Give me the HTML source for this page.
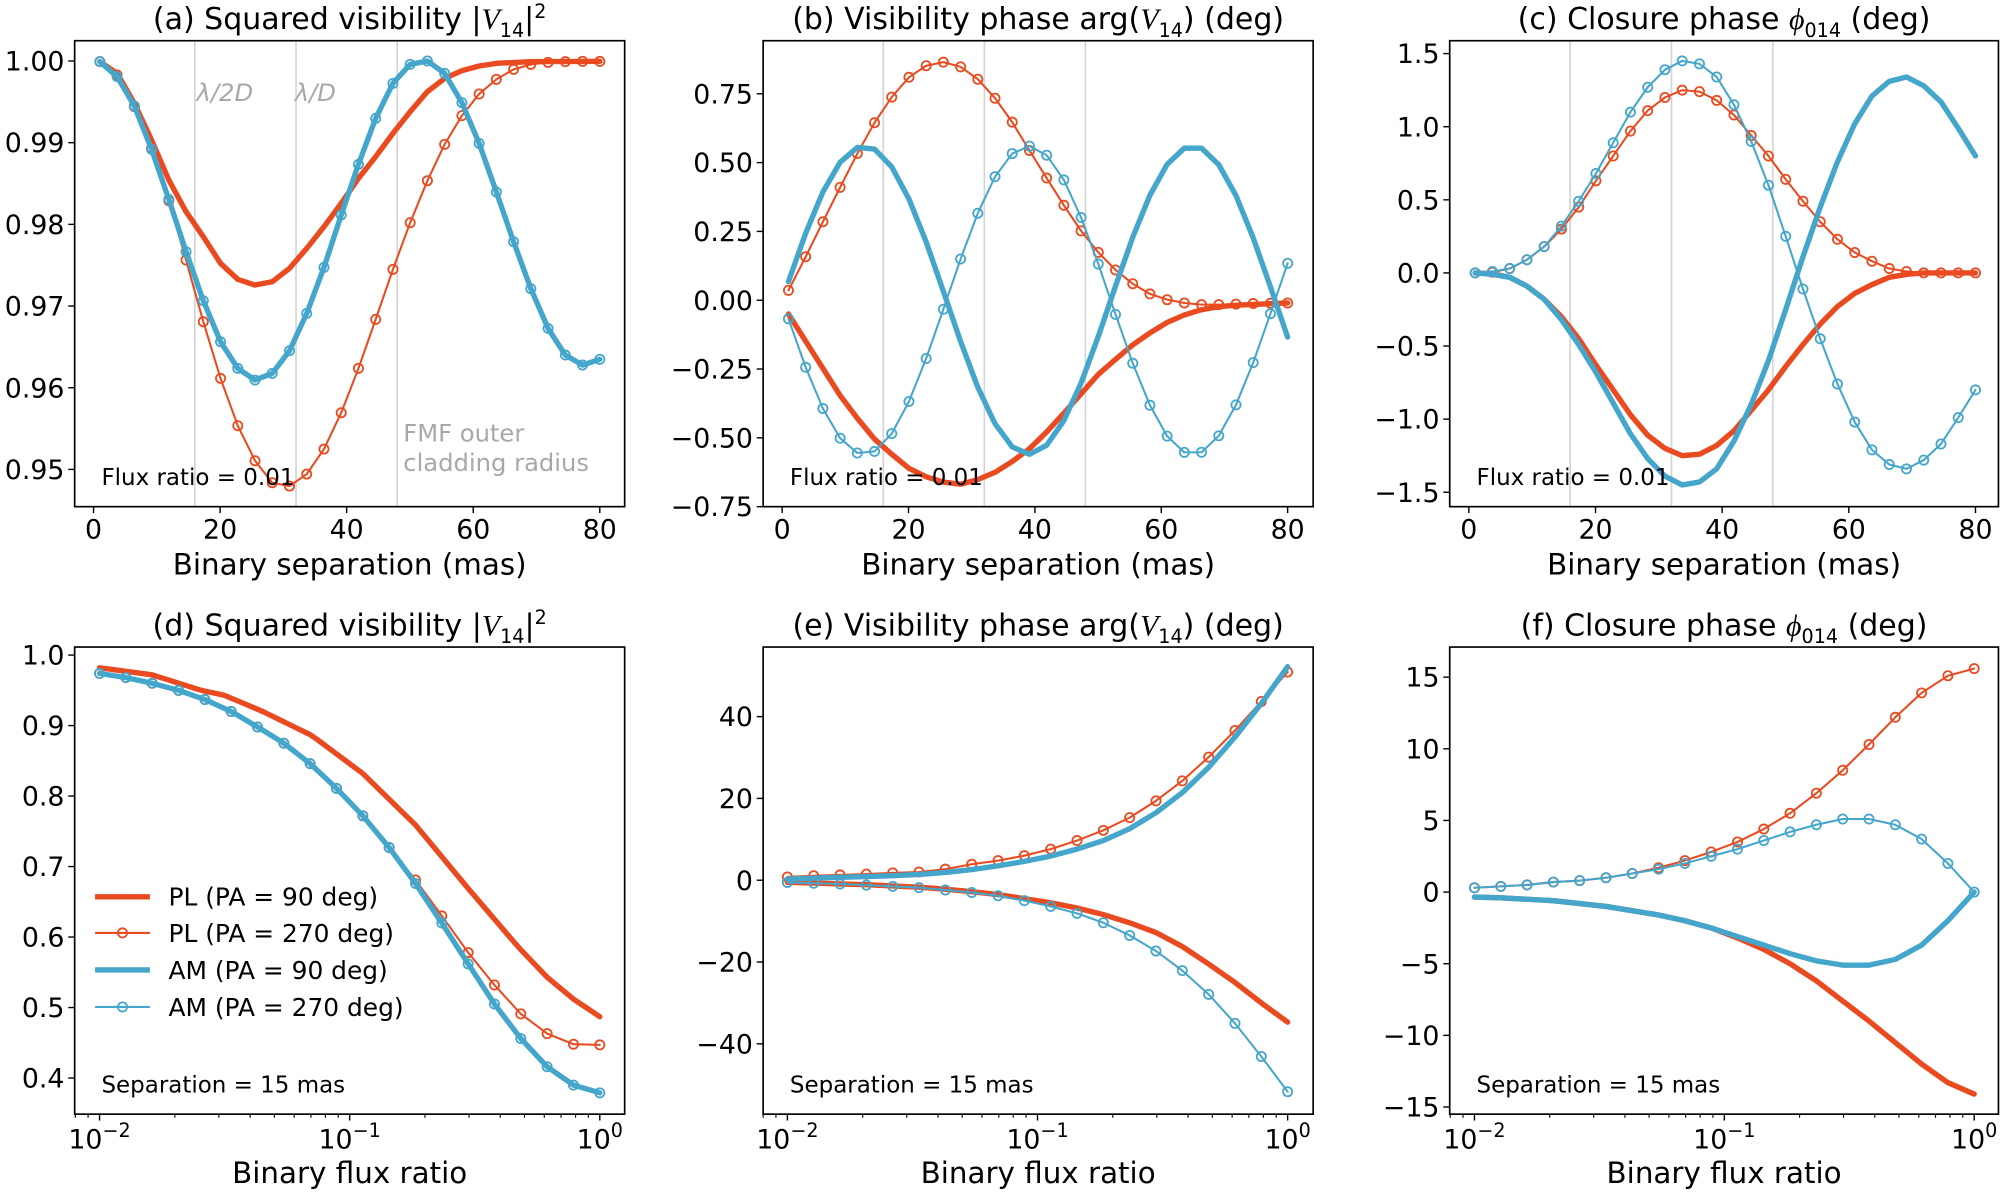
<!DOCTYPE html>
<html><head><meta charset="utf-8"><style>
html,body{margin:0;padding:0;background:#fff;}
svg{display:block;}
text{font-family:"DejaVu Sans","Liberation Sans",sans-serif;fill:#000;}
</style></head><body>
<svg id="s" width="2001" height="1192" viewBox="0 0 1568 934" preserveAspectRatio="none" xmlns="http://www.w3.org/2000/svg"></svg>
<script>
const S=document.getElementById('s');const NS='http://www.w3.org/2000/svg';
const RED='#EA4A1F',BLUE='#45A6CC',GRAY='#d4d4d4';
function el(t,a,p){const e=document.createElementNS(NS,t);for(const k in a)e.setAttribute(k,a[k]);(p||S).appendChild(e);return e;}
function txt(x,y,s,a){const e=el('text',Object.assign({x:x,y:y},a||{}));e.innerHTML=s;return e;}
function line(pts,col,w,g){el('polyline',{points:pts.map(p=>p[0].toFixed(2)+','+p[1].toFixed(2)).join(' '),fill:'none',stroke:col,'stroke-width':w,'stroke-linejoin':'round','stroke-linecap':'round'},g);}
function marks(pts,col,g){pts.forEach(p=>el('circle',{cx:p[0],cy:p[1],r:3.6,fill:'none',stroke:col,'stroke-width':1.4},g));}
function lin(a,b,c,d){return v=>c+(v-a)*(d-c)/(b-a);}
function interp(cp,x){for(let i=0;i<cp.length-1;i++){if(x>=cp[i][0]&&x<=cp[i+1][0]){const t=(x-cp[i][0])/(cp[i+1][0]-cp[i][0]);return cp[i][1]+t*(cp[i+1][1]-cp[i][1]);}}return cp[cp.length-1][1];}

function panel(o){
  const clip='c'+o.id;const cp=el('clipPath',{id:clip});el('rect',{x:o.L,y:o.T,width:o.R-o.L,height:o.B-o.T},cp);
  const g=el('g',{'clip-path':'url(#'+clip+')'});
  (o.vl||[]).forEach(v=>el('line',{x1:o.X(v),x2:o.X(v),y1:o.T,y2:o.B,stroke:GRAY,'stroke-width':1.3},g));
  o.draw(g);
  el('rect',{x:o.L,y:o.T,width:o.R-o.L,height:o.B-o.T,fill:'none',stroke:'#000','stroke-width':1.3});
  o.yt.forEach(t=>{const y=o.Y(t[0]);el('line',{x1:o.L-5,x2:o.L,y1:y,y2:y,stroke:'#000','stroke-width':1.1});txt(o.L-8,y+7.5,t[1],{'text-anchor':'end','font-size':21});});
  if(o.log){
    for(let d=-3;d<=0;d++){for(let m=1;m<10;m++){const v=Math.log10(m)+d;const x=o.X(v);if(x<o.L||x>o.R)continue;if(m==1){el('line',{x1:x,x2:x,y1:o.B,y2:o.B+5,stroke:'#000','stroke-width':1.1});}else el('line',{x1:x,x2:x,y1:o.B,y2:o.B+2.8,stroke:'#000','stroke-width':0.9});}}
    [[-2,'−2'],[-1,'−1'],[0,'0']].forEach(t=>{const x=o.X(t[0]);txt(x,900,'10<tspan dy="-9" font-size="15">'+t[1]+'</tspan>',{'text-anchor':'middle','font-size':21});});
  } else {
    [0,20,40,60,80].forEach(v=>{const x=o.X(v);el('line',{x1:x,x2:x,y1:o.B,y2:o.B+5,stroke:'#000','stroke-width':1.1});txt(x,o.B+25,String(v),{'text-anchor':'middle','font-size':21});});
  }
  txt((o.L+o.R)/2,o.B+(o.log?54:53),o.xl,{'text-anchor':'middle','font-size':23});
  txt((o.L+o.R)/2,o.T-9,o.title,{'text-anchor':'middle','font-size':23.5});
  if(o.note)txt(o.L+21,o.B-17,o.note,{'font-size':18});
}
const V='<tspan font-family="Liberation Serif" font-style="italic">V</tspan><tspan dy="6" font-size="15">14</tspan><tspan dy="-6">|</tspan>';
const xs=[];for(let i=0;i<30;i++)xs.push(1+79*i/29);
const ts=[];for(let i=0;i<20;i++)ts.push(-2+2*i/19);

(function(){
 const X=lin(0,80,73.3,470),Y=lin(1,0.95,47.8,367.8);
 const rm=[95,135,230,355,512,690,875,1045,1187,1292,1358,1368,1332,1257,1148,1015,868,718,578,452,343,257,192,148,118,103,97,95,94,94].map(y=>1-(y-93)/24500);
 const bm=[95,140,228,358,508,665,812,935,1015,1050,1030,962,850,712,555,403,265,160,103,93,130,218,340,486,635,776,895,975,1005,988].map(y=>1-(y-93)/24500);
 const tc=[[0,95],[1,130],[2,220],[3,330],[4,450],[5,545],[6,620],[7,700],[8,748],[9,765],[10,755],[11,715],[12,655],[13,590],[14,520],[15,445],[16,380],[17,310],[18,245],[19,185],[20,145],[21,122],[22,108],[23,100],[25,95],[29,94]];
 const tr=xs.map((x,i)=>1-(interp(tc,i)-93)/24500);
 panel({id:'a',L:58.5,R:489.5,T:31.9,B:397,X:X,Y:Y,vl:[16,32,48],
  yt:[[1,'1.00'],[.99,'0.99'],[.98,'0.98'],[.97,'0.97'],[.96,'0.96'],[.95,'0.95']],
  xl:'Binary separation (mas)',title:'(a) Squared visibility |'+V+'<tspan dy="-9" font-size="15">2</tspan>',note:'Flux ratio = 0.01',
  draw:g=>{
   line(xs.map((x,i)=>[X(x),Y(tr[i])]),RED,4.2,g);
   line(xs.map((x,i)=>[X(x),Y(rm[i])]),RED,1.6,g);marks(xs.map((x,i)=>[X(x),Y(rm[i])]),RED,g);
   line(xs.map((x,i)=>[X(x),Y(bm[i])]),BLUE,4.2,g);
   line(xs.map((x,i)=>[X(x),Y(bm[i])]),BLUE,1.6,g);marks(xs.map((x,i)=>[X(x),Y(bm[i])]),BLUE,g);
  }});
 txt(154,79,'λ/2D',{'font-size':19,'font-style':'italic',style:'fill:#a8a8a8'});
 txt(231,79,'λ/D',{'font-size':19,'font-style':'italic',style:'fill:#a8a8a8'});
 txt(316,346,'FMF outer',{'font-size':19,style:'fill:#a8a8a8'});
 txt(316,369,'cladding radius',{'font-size':19,style:'fill:#a8a8a8'});
})();

(function(){
 const X=lin(0,80,612.9,1009),Y=lin(0.75,-0.75,73.5,397);
 const rm=[0.036,0.158,0.285,0.41,0.533,0.645,0.738,0.81,0.852,0.865,0.848,0.803,0.734,0.647,0.544,0.444,0.345,0.252,0.174,0.11,0.06,0.023,0.002,-0.01,-0.016,-0.016,-0.014,-0.012,-0.011,-0.01];
 const tc=[[1,-0.05],[5,-0.195],[10,-0.376],[15,-0.515],[20,-0.61],[24,-0.655],[28,-0.67],[32,-0.645],[35,-0.61],[40,-0.525],[45,-0.4],[50,-0.27],[55,-0.17],[60,-0.09],[65,-0.04],[70,-0.02],[80,-0.01]];
 const tr=xs.map(x=>interp(tc,x));
 const am=xs.map(x=>0.56*Math.sin(2*Math.PI*x/52));
 panel({id:'b',L:598,R:1029,T:31.9,B:397,X:X,Y:Y,vl:[16,32,48],
  yt:[[.75,'0.75'],[.5,'0.50'],[.25,'0.25'],[0,'0.00'],[-.25,'−0.25'],[-.5,'−0.50'],[-.75,'−0.75']],
  xl:'Binary separation (mas)',title:'(b) Visibility phase arg('+V.replace('<tspan dy="-6">|</tspan>','<tspan dy="-6">)</tspan>')+' (deg)',note:'Flux ratio = 0.01',
  draw:g=>{
   line(xs.map((x,i)=>[X(x),Y(tr[i])]),RED,4.2,g);
   line(xs.map((x,i)=>[X(x),Y(rm[i])]),RED,1.6,g);marks(xs.map((x,i)=>[X(x),Y(rm[i])]),RED,g);
   line(xs.map((x,i)=>[X(x),Y(am[i])]),BLUE,4.2,g);
   line(xs.map((x,i)=>[X(x),Y(-am[i])]),BLUE,1.6,g);marks(xs.map((x,i)=>[X(x),Y(-am[i])]),BLUE,g);
  }});
})();

(function(){
 const X=lin(0,80,1151,1548),Y=lin(1.5,-1.5,42,385.7);
 const rm=[0,0.005,0.03,0.09,0.18,0.3,0.45,0.63,0.8,0.97,1.11,1.2,1.25,1.24,1.18,1.08,0.94,0.8,0.64,0.49,0.35,0.23,0.14,0.08,0.03,0.01,0,0,0,0];
 const bm=[0,0.01,0.03,0.09,0.18,0.32,0.49,0.68,0.89,1.1,1.27,1.39,1.45,1.43,1.34,1.15,0.9,0.6,0.25,-0.11,-0.45,-0.76,-1.02,-1.21,-1.31,-1.34,-1.28,-1.17,-0.99,-0.8];
 panel({id:'c',L:1136,R:1566,T:31.9,B:397,X:X,Y:Y,vl:[16,32,48],
  yt:[[1.5,'1.5'],[1,'1.0'],[.5,'0.5'],[0,'0.0'],[-.5,'−0.5'],[-1,'−1.0'],[-1.5,'−1.5']],
  xl:'Binary separation (mas)',title:'(c) Closure phase <tspan font-family="Liberation Serif" font-style="italic">ϕ</tspan><tspan dy="6" font-size="15">014</tspan><tspan dy="-6"> (deg)</tspan>',note:'Flux ratio = 0.01',
  draw:g=>{
   line(xs.map((x,i)=>[X(x),Y(-rm[i])]),RED,4.2,g);
   line(xs.map((x,i)=>[X(x),Y(rm[i])]),RED,1.6,g);marks(xs.map((x,i)=>[X(x),Y(rm[i])]),RED,g);
   line(xs.map((x,i)=>[X(x),Y(-bm[i])]),BLUE,4.2,g);
   line(xs.map((x,i)=>[X(x),Y(bm[i])]),BLUE,1.6,g);marks(xs.map((x,i)=>[X(x),Y(bm[i])]),BLUE,g);
  }});
})();

(function(){
 const X=lin(-2,0,78,470),Y=lin(1,0.4,513.3,844.7);
 const rm=[0.974,0.968,0.960,0.950,0.937,0.920,0.898,0.875,0.846,0.811,0.772,0.727,0.681,0.630,0.578,0.532,0.491,0.463,0.448,0.447];
 const bm=[0.974,0.968,0.960,0.950,0.937,0.920,0.898,0.875,0.846,0.811,0.772,0.727,0.676,0.62,0.562,0.505,0.456,0.416,0.39,0.379];
 const tc=[[0,0.982],[2,0.972],[3.86,0.950],[4.74,0.943],[6.2,0.92],[8.06,0.886],[10,0.832],[12,0.759],[14,0.669],[15.9,0.586],[17,0.543],[18,0.512],[19,0.487]];
 const fine=[];for(let k=0;k<=76;k++)fine.push(k/4);
 panel({id:'d',L:58.5,R:489.5,T:507,B:873,X:X,Y:Y,log:1,
  yt:[[1,'1.0'],[.9,'0.9'],[.8,'0.8'],[.7,'0.7'],[.6,'0.6'],[.5,'0.5'],[.4,'0.4']],
  xl:'Binary flux ratio',title:'(d) Squared visibility |'+V+'<tspan dy="-9" font-size="15">2</tspan>',note:'Separation = 15 mas',
  draw:g=>{
   line(fine.map(i=>[X(-2+2*i/19),Y(interp(tc,i))]),RED,4.2,g);
   line(ts.map((t,i)=>[X(t),Y(rm[i])]),RED,1.6,g);marks(ts.map((t,i)=>[X(t),Y(rm[i])]),RED,g);
   line(ts.map((t,i)=>[X(t),Y(bm[i])]),BLUE,4.2,g);
   line(ts.map((t,i)=>[X(t),Y(bm[i])]),BLUE,1.6,g);marks(ts.map((t,i)=>[X(t),Y(bm[i])]),BLUE,g);
  }});
 const ly=[702.7,731,760,789],lab=['PL (PA = 90 deg)','PL (PA = 270 deg)','AM (PA = 90 deg)','AM (PA = 270 deg)'];
 ly.forEach((y,i)=>{const c=i<2?RED:BLUE;el('line',{x1:74.5,x2:117.5,y1:y,y2:y,stroke:c,'stroke-width':i%2?1.6:4.2});if(i%2)el('circle',{cx:96,cy:y,r:3.6,fill:'none',stroke:c,'stroke-width':1.4});txt(132,y+7,lab[i],{'font-size':19.5});});
})();

(function(){
 const X=lin(-2,0,617,1009),Y=lin(0,20,689.7,625.6);
 const rm=[0.8,1.1,1.3,1.5,1.8,2.0,2.7,3.9,4.8,6.0,7.6,9.7,12.2,15.3,19.4,24.3,30.1,36.6,43.7,50.9];
 const tb=[0.3,0.5,0.7,0.9,1.1,1.4,1.9,2.6,3.5,4.6,5.9,7.6,9.7,12.6,16.5,21.4,27.6,35,43.2,52.2];
 const bm=[-0.55,-0.74,-0.92,-1.2,-1.5,-1.8,-2.4,-3.0,-3.8,-5.0,-6.4,-8.1,-10.4,-13.5,-17.3,-22.1,-27.9,-35.0,-43.1,-51.7];
 const tr=[-0.5,-0.7,-0.9,-1.1,-1.4,-1.7,-2.2,-2.8,-3.5,-4.5,-5.5,-6.8,-8.4,-10.4,-12.8,-16.2,-20.5,-25,-30,-34.7];
 panel({id:'e',L:598,R:1029,T:507,B:873,X:X,Y:Y,log:1,
  yt:[[40,'40'],[20,'20'],[0,'0'],[-20,'−20'],[-40,'−40']],
  xl:'Binary flux ratio',title:'(e) Visibility phase arg('+V.replace('<tspan dy="-6">|</tspan>','<tspan dy="-6">)</tspan>')+' (deg)',note:'Separation = 15 mas',
  draw:g=>{
   line(ts.map((t,i)=>[X(t),Y(tr[i])]),RED,4.2,g);
   line(ts.map((t,i)=>[X(t),Y(rm[i])]),RED,1.6,g);marks(ts.map((t,i)=>[X(t),Y(rm[i])]),RED,g);
   line(ts.map((t,i)=>[X(t),Y(tb[i])]),BLUE,4.2,g);
   line(ts.map((t,i)=>[X(t),Y(bm[i])]),BLUE,1.6,g);marks(ts.map((t,i)=>[X(t),Y(bm[i])]),BLUE,g);
  }});
})();

(function(){
 const X=lin(-2,0,1155.4,1547),Y=lin(0,15,699,530.6);
 const rm=[0.3,0.4,0.5,0.7,0.8,1.0,1.3,1.7,2.2,2.8,3.5,4.4,5.5,6.9,8.5,10.3,12.2,13.9,15.1,15.6];
 const bm=[0.3,0.4,0.5,0.7,0.8,1.0,1.3,1.6,2.0,2.5,3.0,3.6,4.2,4.7,5.1,5.1,4.7,3.7,2.0,0];
 const tb=[-0.35,-0.4,-0.5,-0.6,-0.8,-1.0,-1.3,-1.6,-2.0,-2.5,-3.1,-3.7,-4.3,-4.8,-5.1,-5.1,-4.7,-3.7,-2.0,0];
 const tr=[-0.35,-0.4,-0.5,-0.6,-0.8,-1.0,-1.3,-1.6,-2.0,-2.5,-3.2,-4.0,-5.0,-6.2,-7.6,-9.0,-10.5,-12.0,-13.3,-14.1];
 panel({id:'f',L:1136,R:1566,T:507,B:873,X:X,Y:Y,log:1,
  yt:[[15,'15'],[10,'10'],[5,'5'],[0,'0'],[-5,'−5'],[-10,'−10'],[-15,'−15']],
  xl:'Binary flux ratio',title:'(f) Closure phase <tspan font-family="Liberation Serif" font-style="italic">ϕ</tspan><tspan dy="6" font-size="15">014</tspan><tspan dy="-6"> (deg)</tspan>',note:'Separation = 15 mas',
  draw:g=>{
   line(ts.map((t,i)=>[X(t),Y(tr[i])]),RED,4.2,g);
   line(ts.map((t,i)=>[X(t),Y(rm[i])]),RED,1.6,g);marks(ts.map((t,i)=>[X(t),Y(rm[i])]),RED,g);
   line(ts.map((t,i)=>[X(t),Y(tb[i])]),BLUE,4.2,g);
   line(ts.map((t,i)=>[X(t),Y(bm[i])]),BLUE,1.6,g);marks(ts.map((t,i)=>[X(t),Y(bm[i])]),BLUE,g);
  }});
})();
function interpS(cp,x){return interp(cp,x);}
</script>
</body></html>
